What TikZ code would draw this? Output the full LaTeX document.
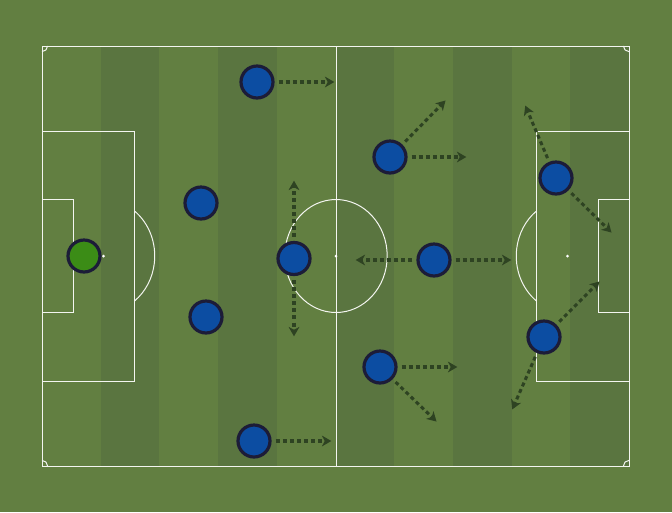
\documentclass[tikz,border=0pt]{standalone}
\usetikzlibrary{arrows.meta,shadows}
\definecolor{grass}{HTML}{627F41}
\definecolor{stripe}{HTML}{5A7540}
\definecolor{shirt}{HTML}{0C4DA2}
\definecolor{keeper}{HTML}{3B8C16}
\definecolor{rim}{HTML}{1C1C38}
\definecolor{runcol}{HTML}{2E4322}

\begin{document}
\begin{tikzpicture}[x=0.75pt,y=-0.75pt,>={Stealth[length=7pt,width=8pt,inset=2pt]},
		line/.style={white!92!grass,line width=0.75pt},
		base node/.style={circle,draw=rim,line width=2.4pt,minimum size=24pt,inner sep=0pt,
			drop shadow={opacity=0.25,shadow xshift=0pt,shadow yshift=-0.8pt}},
		player node/.style={base node,fill=shirt}, keeper node/.style={base node,fill=keeper},
		run/.style={->,draw=runcol,line width=2.3pt,dash pattern=on 3pt off 2.3pt,shorten <=3pt,shorten >=0.5pt}]
		\fill[grass] (0,0) rectangle (672,512);
		\useasboundingbox (0,0) rectangle (672,512);
		\foreach \i in {1,3,5,7,9}
			\fill[stripe] ({42+\i*58.7},46) rectangle ({42+(\i+1)*58.7},466);
		\draw[line] (42,46) rectangle (629,466);
		\draw[line] (336,46) -- (336,466);
		\draw[line] (336,256) ellipse [x radius=51.2,y radius=56.5];
		\draw[line] (42,131) rectangle (134.5,381);
		\draw[line] (42,199.5) rectangle (73,312.5);
		\draw[line] (629,131) rectangle (536.5,381);
		\draw[line] (629,199.5) rectangle (598,312.5);
		\draw[line] (134.5,211) arc [start angle=-52.8,end angle=52.8,x radius=51.2,y radius=56.5];
		\draw[line] (536.5,301) arc [start angle=127.2,end angle=232.8,x radius=51.2,y radius=56.5];
		\draw[line] (47.6,46) arc [start angle=0,end angle=90,radius=5.6];
		\draw[line] (623.4,46) arc [start angle=180,end angle=90,radius=5.6];
		\draw[line] (47.6,466) arc [start angle=0,end angle=-90,radius=5.6];
		\draw[line] (623.4,466) arc [start angle=180,end angle=270,radius=5.6];
		\foreach \x in {103.5,336,567.5}
			\fill[white] (\x,256) circle [radius=1.5];

		\node[keeper node] (p1) at (84,256) {};
		\node[player node] (p2) at (201,203) {};
		\node[player node] (p3) at (206,317) {};
		\node[player node] (p4) at (257,82) {};
		\node[player node] (p5) at (254,441) {};
		\node[player node] (p6) at (294,258.5) {};
		\node[player node] (p7) at (390,157) {};
		\node[player node] (p8) at (434,260) {};
		\node[player node] (p9) at (556,178) {};
		\node[player node] (p10) at (380,367) {};
		\node[player node] (p11) at (544,337) {};

		\coordinate (t4) at (335,82);
		\coordinate (t5) at (332,441);
		\coordinate (t6a) at (294,180);
		\coordinate (t6b) at (294,337);
		\coordinate (t7a) at (446,100);
		\coordinate (t7b) at (467,157);
		\coordinate (t8a) at (355,260);
		\coordinate (t8b) at (512,260);
		\coordinate (t9a) at (525,105);
		\coordinate (t9b) at (612,233);
		\coordinate (t10a) at (458,367);
		\coordinate (t10b) at (437,422);
		\coordinate (t11a) at (600,281);
		\coordinate (t11b) at (512,410);

		\foreach \from/\to in {p4/t4,p5/t5,p6/t6a,p6/t6b,p7/t7a,p7/t7b,p8/t8a,p8/t8b,
				p9/t9a,p9/t9b,p10/t10a,p10/t10b,p11/t11a,p11/t11b}
			\draw[run] (\from) -- (\to);
		\end{tikzpicture}
\end{document}
